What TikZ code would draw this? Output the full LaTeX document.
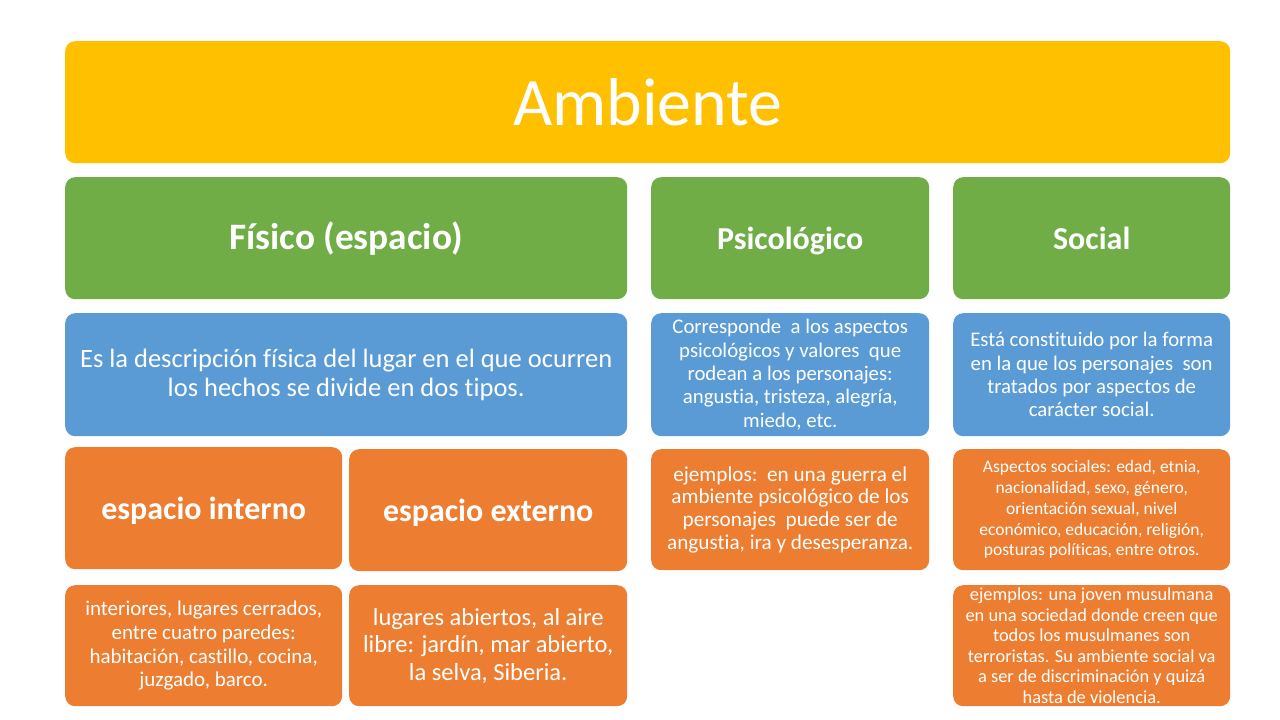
\documentclass[tikz,border=0pt]{standalone}
\usepackage{fontspec}
\setmainfont{Carlito}[Ligatures=NoCommon]
\definecolor{cyel}{HTML}{FFC000}
\definecolor{cgre}{HTML}{70AD47}
\definecolor{cblu}{HTML}{5B9BD5}
\definecolor{cora}{HTML}{ED7D31}
\tikzset{
  box/.style={rounded corners=10pt, inner sep=0pt, text=white, align=center, anchor=north west},
  fs/.style 2 args={font=\fontsize{#1}{#2}\selectfont},
  fsb/.style 2 args={font=\fontsize{#1}{#2}\selectfont\bfseries},
  hdr/.style={text height=23pt, text depth=0pt},
}
\begin{document}
\begin{tikzpicture}[x=1pt,y=-1pt]
\useasboundingbox (0,0) rectangle (1280,720);
\fill[white] (0,0) rectangle (1280,720);
% title
\node[box, fill=cyel, minimum width=1165pt, minimum height=122pt, fs={67.8}{80}] (amb) at (65,41) {Ambiente};
% green headers
\node[box, fill=cgre, minimum width=562pt, minimum height=122pt, fsb={37.3}{44}] (fis) at (65,177) {Físico (espacio)};
\node[box, hdr, fill=cgre, minimum width=278pt, minimum height=122pt, fsb={32}{39}] (psi) at (651,177) {Psicológico};
\node[box, hdr, fill=cgre, minimum width=277pt, minimum height=122pt, fsb={32}{39}] (soc) at (953,177) {Social};
% blue descriptions
\node[box, fill=cblu, minimum width=562pt, minimum height=123pt, fs={26.5}{29}] (fisd) at (65,313)
  {Es la descripción física del lugar en el que ocurren\\los hechos se divide en dos tipos.};
\node[box, fill=cblu, minimum width=278pt, minimum height=123pt, fs={20.8}{23.3}] (psid) at (651,313)
  {Corresponde\ \ a los aspectos\\psicológicos y valores\ \ que\\rodean a los personajes:\\angustia, tristeza, alegría,\\miedo, etc.};
\node[box, fill=cblu, minimum width=277pt, minimum height=123pt, fs={20.8}{23.3}] (socd) at (953,313)
  {Está constituido por la forma\\en la que los personajes\ \ son\\tratados por aspectos de\\carácter social.};
% orange row 1
\node[box, hdr, fill=cora, minimum width=277pt, minimum height=122pt, fsb={32}{39}] (int) at (65,447) {espacio interno};
\node[box, hdr, fill=cora, minimum width=278pt, minimum height=122pt, fsb={32}{39}] (ext) at (349,449) {espacio externo};
\node[box, fill=cora, minimum width=278pt, minimum height=121pt, fs={21.2}{22.8}] (psie) at (651,449)
  {ejemplos:\ \ en una guerra el\\ambiente psicológico de los\\personajes\ \ puede ser\ de\\angustia, ira y desesperanza.};
\node[box, fill=cora, minimum width=277pt, minimum height=121pt, fs={17.5}{20.7}] (soca) at (953,449)
  {Aspectos sociales: edad, etnia,\\nacionalidad, sexo, género,\\orientación sexual, nivel\\económico, educación, religión,\\posturas políticas, entre otros.};
% orange row 2
\node[box, fill=cora, minimum width=277pt, minimum height=121pt, fs={21}{23.7}] (intd) at (65,585)
  {interiores, lugares cerrados,\\entre cuatro paredes:\\habitación, castillo, cocina,\\juzgado, barco.};
\node[box, fill=cora, minimum width=278pt, minimum height=121pt, fs={24.5}{27.5}] (extd) at (349,585)
  {lugares abiertos, al aire\\libre: jardín, mar abierto,\\la selva, Siberia.};
\node[box, fill=cora, minimum width=277pt, minimum height=121pt, fs={18.4}{20.5}] (soce) at (953,585)
  {ejemplos: una joven musulmana\\en una sociedad donde creen que\\todos los musulmanes son\\terroristas. Su ambiente social va\\a ser de discriminación y quizá\\hasta de violencia.};
\end{tikzpicture}
\end{document}
